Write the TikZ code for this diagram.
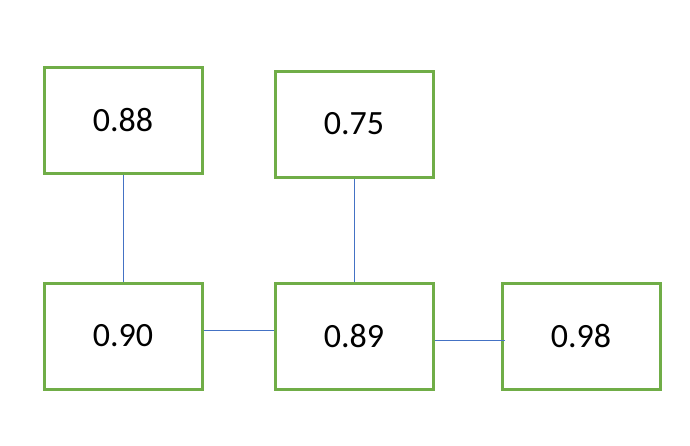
\documentclass[tikz,border=0pt]{standalone}
\usepackage{fontspec}
\setmainfont{Carlito}
\definecolor{boxgreen}{RGB}{112,173,71}
\definecolor{lineblue}{RGB}{68,114,196}
\begin{document}
\begin{tikzpicture}[x=1pt,y=-1pt,
  valbox/.style={draw=boxgreen,line width=3pt,minimum width=158pt,minimum height=106pt,font=\fontsize{34}{36}\selectfont,inner sep=0pt},
  conn/.style={draw=lineblue,line width=1pt}]
\useasboundingbox (0,0) rectangle (690,445);
\node[valbox] (a) at (123,120) {0.88};
\node[valbox] (b) at (354,124) {0.75};
\node[valbox] (c) at (123,336) {0.90};
\node[valbox] (d) at (354,336) {0.89};
\node[valbox] (e) at (581,336) {0.98};
\draw[conn] (a.south) -- (c.north);
\draw[conn] (b.south) -- (d.north);
\draw[conn] ([yshift=6pt]c.east) -- ([yshift=6pt]d.west);
\draw[conn] ([yshift=-4pt]d.east) -- ([yshift=-4pt,xshift=4pt]e.west);
\end{tikzpicture}
\end{document}
